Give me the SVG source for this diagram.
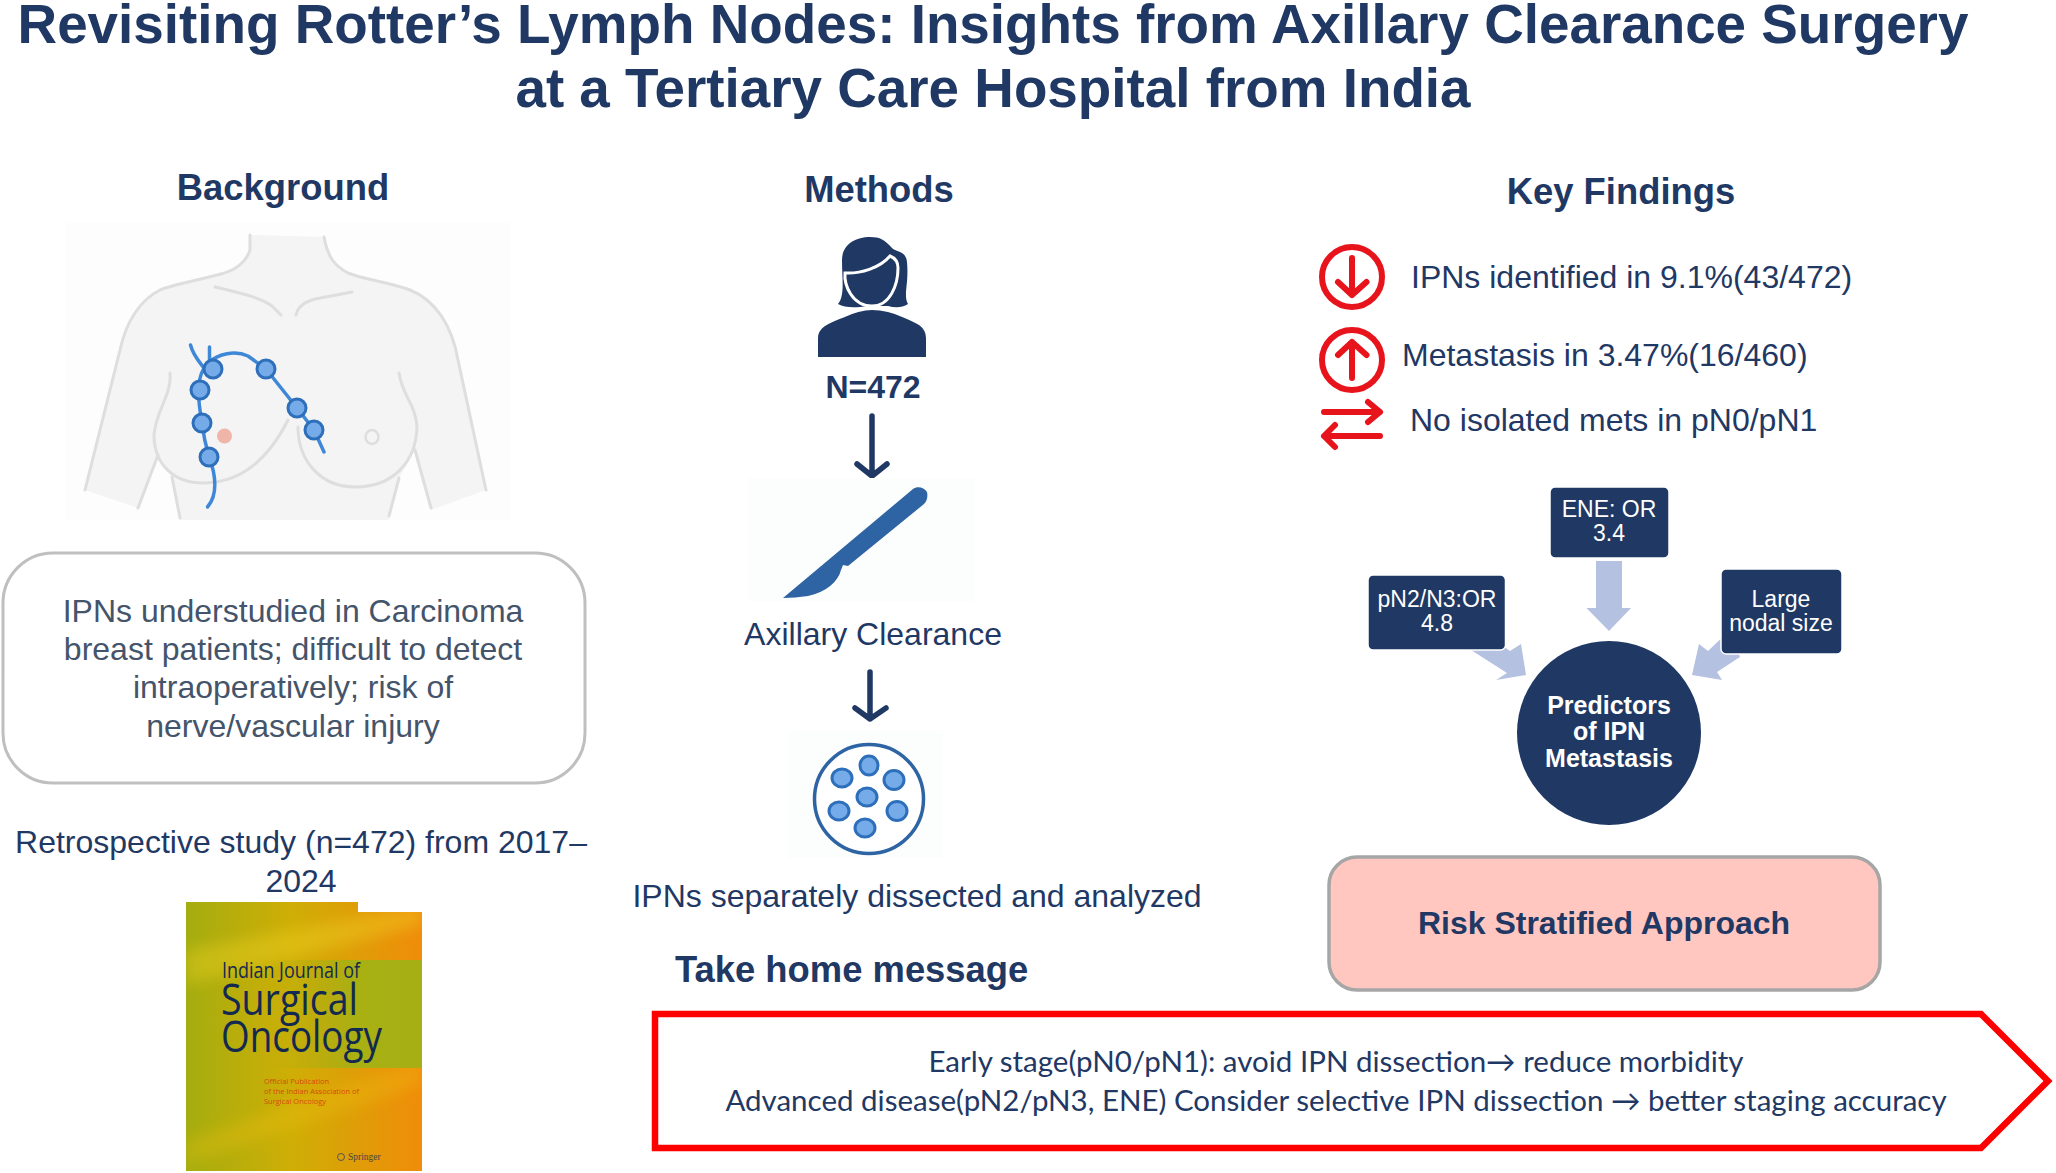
<svg xmlns="http://www.w3.org/2000/svg" width="2056" height="1173" viewBox="0 0 2056 1173">
<style>
text{font-family:"Liberation Sans",Arial,sans-serif;fill:#1f3864}
.h{font-size:36.4px;font-weight:700;text-anchor:middle}
.t{font-size:54.8px;font-weight:700;text-anchor:middle}
.b{font-size:32px}
.m{text-anchor:middle}
.g{fill:#44546a}
.w{fill:#fff;font-size:23px;text-anchor:middle}
.wb{fill:#fff;font-size:25px;font-weight:700;text-anchor:middle}
.c{font-family:Lato,"Open Sans",sans-serif;font-size:29.5px;text-anchor:middle}
.ln{fill:none;stroke:#dedede;stroke-width:3;stroke-linecap:round;stroke-linejoin:round}
.ly{fill:none;stroke:#3f88d8;stroke-width:3.5;stroke-linecap:round}
.nd{fill:#74abe8;stroke:#2e6fbb;stroke-width:3}
.nv{fill:#1f3864}
.ar{fill:none;stroke:#1f3864;stroke-width:5.5;stroke-linecap:round;stroke-linejoin:round}
.rd{fill:none;stroke:#e8141c;stroke-width:6;stroke-linecap:round;stroke-linejoin:round}
.bl{fill:#b4c1e0}
.bx{fill:#1f3864;stroke:#fff;stroke-width:1.5}
.jt{font-family:"Open Sans",sans-serif;fill:#13294f}
.jo{font-family:"Open Sans",sans-serif;fill:#d9480f;font-size:7.5px}
</style>
<defs>
<linearGradient id="cv" x1="0" y1="0" x2="1" y2="0"><stop offset="0" stop-color="#a4ad10"/><stop offset=".45" stop-color="#cfae06"/><stop offset="1" stop-color="#f08c0a"/></linearGradient>
<linearGradient id="cm" x1="0" y1="0" x2="1" y2="0"><stop offset="0" stop-color="#a9b012" stop-opacity="0"/><stop offset=".55" stop-color="#a9b012"/><stop offset="1" stop-color="#a5b015"/></linearGradient>
<filter id="sf" x="-20%" y="-50%" width="140%" height="200%"><feGaussianBlur stdDeviation="7"/></filter>
<clipPath id="cc"><rect x="186" y="902" width="236" height="269"/></clipPath>
</defs>
<rect width="2056" height="1173" fill="#fff"/>

<g id="title">
<text class="t" x="993" y="43">Revisiting Rotter’s Lymph Nodes: Insights from Axillary Clearance Surgery</text>
<text class="t" x="993" y="107">at a Tertiary Care Hospital from India</text>
</g>

<g id="connectors">
<path class="ar" d="M872 416V476M857 464L872 476L887 464"/>
<path class="ar" d="M870 672V719M855 708L870 719L886 708"/>
<polygon class="bl" points="1596,561 1622,561 1622,608 1631,608 1609,631 1586.5,608 1596,608"/>
<polygon class="bl" points="1471,650 1507,673 1496,680 1526,675 1521,644 1510,651 1480,630"/>
<polygon class="bl" points="1692,675 1722,680 1717,672 1740,657 1730,630 1708,651 1699,644"/>
</g>

<g id="background">
<text class="h" x="283" y="200">Background</text>
<rect x="65" y="223" width="445" height="297" fill="#fdfdfd"/>
<path fill="#f4f4f4" d="M250 235V250C246 262 236 270 221 274C200 280 175 284 160 290C140 300 126 322 120 350L85 490L138 508L158 455L172 477L180 520H389L399 478L415 450L431 510L486 490L458 360C452 325 435 300 410 290C390 282 365 280 348 273C335 266 328 258 324 237Z"/>
<path class="ln" d="M250 235V250C246 262 236 270 221 274C200 280 175 284 160 290C140 300 126 322 120 350L85 490M324 237C328 258 335 266 348 273C365 280 390 282 410 290C435 300 452 325 458 360L486 490"/>
<path class="ln" d="M138 508L158 455M172 477L180 518M399 478L389 516M415 450L431 508"/>
<path class="ln" d="M215 287C240 293 262 298 272 306L281 315M296 315C298 306 305 302 315 299L352 292"/>
<path class="ln" d="M170 373C172 395 156 410 154 435C154 465 175 484 205 483C240 482 268 460 288 420"/>
<path class="ln" d="M298 427C298 460 320 487 355 487C395 487 416 460 417 427C416 405 402 395 399 373"/>
<ellipse cx="372" cy="437" rx="6.5" ry="7" fill="none" stroke="#dedede" stroke-width="2.5"/>
<circle cx="224.500" cy="436" r="7.500" fill="#eeb5a8"/>
<path class="ly" d="M190.500 345C193 355 198 360 204 368C196 382 198 400 202 423C204 440 207 450 209 457C216 475 218 495 207.500 507"/>
<path class="ly" d="M209.500 347V362C218 354 235 350 248 356L266 369L297 408L314 430L324 452"/>
<circle class="nd" cx="213" cy="369" r="9"/><circle class="nd" cx="200" cy="390" r="9"/><circle class="nd" cx="202" cy="423" r="9"/><circle class="nd" cx="209" cy="457" r="9"/><circle class="nd" cx="266" cy="369" r="9"/><circle class="nd" cx="297" cy="408" r="9"/><circle class="nd" cx="314" cy="430" r="9"/>
</g>

<g id="background-box">
<rect x="3" y="553" width="582" height="230" rx="50" fill="#fff" stroke="#bfbfbf" stroke-width="3"/>
<text class="b m g" x="293" y="622">IPNs understudied in Carcinoma</text>
<text class="b m g" x="293" y="660">breast patients; difficult to detect</text>
<text class="b m g" x="293" y="698">intraoperatively; risk of</text>
<text class="b m g" x="293" y="737">nerve/vascular injury</text>
</g>

<g id="study">
<text class="b m" x="301" y="853">Retrospective study (n=472) from 2017–</text>
<text class="b m" x="301" y="892">2024</text>
</g>

<g id="journal">
<rect x="186" y="902" width="236" height="269" fill="url(#cv)"/>
<g clip-path="url(#cc)">
<polygon points="186,950 422,905 422,925 186,985" fill="#f0d020" opacity=".4" filter="url(#sf)"/>
<polygon points="186,1140 422,1060 422,1085 186,1165" fill="#f0c010" opacity=".3" filter="url(#sf)"/>
</g>
<rect x="270" y="960" width="152" height="108" fill="url(#cm)"/>
<rect x="358" y="902" width="64" height="10" fill="#fff"/>
<text class="jt" x="222" y="978" font-size="21" textLength="138" lengthAdjust="spacingAndGlyphs">Indian Journal of</text>
<text class="jt" x="221" y="1015" font-size="44" textLength="137" lengthAdjust="spacingAndGlyphs">Surgical</text>
<text class="jt" x="221" y="1052" font-size="44" textLength="161" lengthAdjust="spacingAndGlyphs">Oncology</text>
<text class="jo" x="264" y="1084">Official Publication</text>
<text class="jo" x="264" y="1094">of the Indian Association of</text>
<text class="jo" x="264" y="1104">Surgical Oncology</text>
<circle cx="341" cy="1157" r="3.500" fill="none" stroke="#555" stroke-width="1"/>
<text x="348" y="1160" font-size="9.500" style="font-family:'Liberation Serif',serif;fill:#444">Springer</text>
</g>

<g id="methods-head"><text class="h" x="879" y="202">Methods</text></g>

<g id="patient">
<path class="nv" d="M870 237C855 237 842 245 842 260C842 280 845 295 838 304C845 308 855 308 868 306H888C895 308 902 308 908 304C903 295 909 285 907 262C906 250 895 252 892 248C885 240 880 237 870 237Z"/>
<path class="nv" stroke="#fff" stroke-width="3" d="M890 256C880 268 860 274 845 273C844 285 852 306 872 306C890 306 898 285 898 268C898 262 895 258 890 256Z"/>
<path class="nv" stroke="#fff" stroke-width="2" d="M817 358V338C817 326 830 322 842 317C855 311 865 309 872 309C880 309 892 311 905 317C917 322 927 326 927 338V358Z"/>
<text x="873" y="398" class="m" font-size="32" font-weight="700">N=472</text>
</g>

<g id="clearance">
<rect x="748" y="478" width="227" height="123" fill="#fcfdfd"/>
<path fill="#2e64a4" d="M783 598L913 489C917 486 924 487 927 492C928 497 927 501 924 504L848 566L843 565L841 570C838 582 826 592 808 596Q795 598 783 598Z"/>
<text class="b m" x="873" y="645">Axillary Clearance</text>
</g>

<g id="dissection">
<rect x="788" y="731" width="155" height="127" fill="#fcfdfd"/>
<circle cx="869" cy="799" r="54.500" fill="#fff" stroke="#2e64a4" stroke-width="3.500"/>
<g class="nd"><ellipse cx="869" cy="765.500" rx="9" ry="9.500"/><ellipse cx="842" cy="778" rx="10" ry="9"/><ellipse cx="894" cy="780" rx="10" ry="9.500"/><ellipse cx="867" cy="797" rx="10" ry="9"/><ellipse cx="839" cy="811" rx="10" ry="9"/><ellipse cx="897" cy="811" rx="10" ry="9.500"/><ellipse cx="865" cy="828" rx="10" ry="9"/></g>
<text class="b m" x="917" y="907">IPNs separately dissected and analyzed</text>
</g>

<g id="findings-head"><text class="h" x="1621" y="204">Key Findings</text></g>
<g id="finding-1">
<circle class="rd" cx="1352" cy="277" r="30"/>
<path class="rd" d="M1352 258V295M1338 282L1352 295L1366.500 282"/>
<text class="b" x="1411" y="288">IPNs identified in 9.1%(43/472)</text>
</g>
<g id="finding-2">
<circle class="rd" cx="1352" cy="360" r="30"/>
<path class="rd" d="M1352 378V342M1338 355L1352 342L1366.500 355"/>
<text class="b" x="1402" y="366">Metastasis in 3.47%(16/460)</text>
</g>
<g id="finding-3">
<path class="rd" d="M1324 412H1380L1368 402M1380 412L1368 422M1380 436H1324L1335 425M1324 436L1335 447"/>
<text class="b" x="1410" y="431">No isolated mets in pN0/pN1</text>
</g>

<g id="predictor-ene">
<rect class="bx" x="1550" y="487" width="119" height="71" rx="5"/>
<text class="w" x="1609" y="517">ENE: OR</text><text class="w" x="1609" y="541">3.4</text>
</g>
<g id="predictor-stage">
<rect class="bx" x="1368" y="575" width="137.500" height="75" rx="5"/>
<text class="w" x="1437" y="607">pN2/N3:OR</text><text class="w" x="1437" y="631">4.8</text>
</g>
<g id="predictor-size">
<rect class="bx" x="1721" y="569" width="121" height="85" rx="5"/>
<text class="w" x="1781" y="607">Large</text><text class="w" x="1781" y="631">nodal size</text>
</g>
<g id="predictors">
<circle cx="1609" cy="733" r="92" fill="#1f3864"/>
<text class="wb" x="1609" y="714">Predictors</text><text class="wb" x="1609" y="740">of IPN</text><text class="wb" x="1609" y="767">Metastasis</text>
</g>

<g id="risk">
<rect x="1329" y="857" width="551" height="133" rx="28" fill="#ffc7c0" stroke="#a6a6a6" stroke-width="3.500"/>
<text x="1604" y="934" class="m" font-size="32" font-weight="700">Risk Stratified Approach</text>
</g>

<g id="takehome">
<text x="675" y="982" font-size="36.4" font-weight="700">Take home message</text>
<polygon points="655,1014 1981,1014 2048,1081 1981,1148 655,1148" fill="#fff" stroke="#f00" stroke-width="6.500"/>
<text class="c" x="1336" y="1072">Early stage(pN0/pN1): avoid IPN dissection→ reduce morbidity</text>
<text class="c" x="1336" y="1111">Advanced disease(pN2/pN3, ENE) Consider selective IPN dissection → better staging accuracy</text>
</g>
</svg>
